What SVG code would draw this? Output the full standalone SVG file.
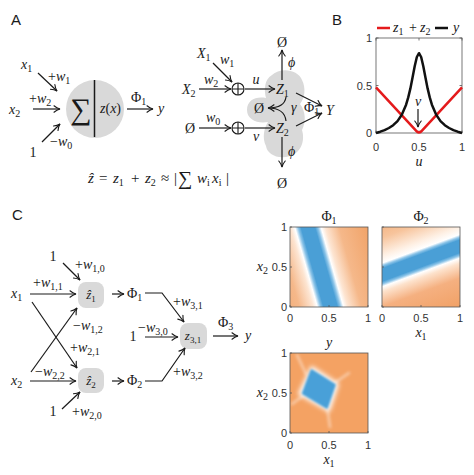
<svg xmlns="http://www.w3.org/2000/svg" width="474" height="475" viewBox="0 0 474 475">
<style>
.m{font-family:"Liberation Serif","DejaVu Serif",serif;font-size:14px;fill:#1a1a1a}
.n{font-size:13px}
.f{font-size:15px}
.i{font-style:italic}
.s{font-size:10px}
.s9{font-size:9px}
.big{font-size:30px}
.sum{font-size:20px}
.t{font-family:"Liberation Sans","DejaVu Sans",sans-serif;font-size:11px;fill:#333}
.L{font-family:"Liberation Sans","DejaVu Sans",sans-serif;font-size:15px;fill:#1a1a1a}
.c{fill:none;stroke:#1a1a1a;stroke-width:1.2}
.ax{fill:none;stroke:#555;stroke-width:0.8}
.tk{stroke:#555;stroke-width:0.8}
.gr{fill:#d9d9d9}
</style>
<defs>
<marker id="ah" viewBox="0 0 10 10" refX="9" refY="5" markerWidth="8" markerHeight="8" markerUnits="userSpaceOnUse" orient="auto">
<path d="M1.5,1 Q5,4 9,5 Q5,6 1.5,9" fill="none" stroke="#1a1a1a" stroke-width="1.4" stroke-linecap="round"/>
</marker>
<linearGradient id="g1" gradientUnits="userSpaceOnUse" x1="251.9" y1="286.1" x2="386.5" y2="247.9">
<stop offset="0" stop-color="#ef9a5a"/>
<stop offset="0.286" stop-color="#f5b88a"/>
<stop offset="0.38" stop-color="#fde5d2"/>
<stop offset="0.41" stop-color="#ffffff"/>
<stop offset="0.432" stop-color="#8cc4e8"/>
<stop offset="0.452" stop-color="#4a9fd6"/>
<stop offset="0.548" stop-color="#4a9fd6"/>
<stop offset="0.568" stop-color="#8cc4e8"/>
<stop offset="0.59" stop-color="#ffffff"/>
<stop offset="0.62" stop-color="#fde5d2"/>
<stop offset="0.714" stop-color="#f5b88a"/>
<stop offset="1" stop-color="#ef9a5a"/>
</linearGradient>
<linearGradient id="g2" gradientUnits="userSpaceOnUse" x1="396.8" y1="194.9" x2="445.2" y2="326.3">
<stop offset="0" stop-color="#ef9a5a"/>
<stop offset="0.25" stop-color="#f7c49c"/>
<stop offset="0.371" stop-color="#fef0e4"/>
<stop offset="0.421" stop-color="#ffffff"/>
<stop offset="0.439" stop-color="#8cc4e8"/>
<stop offset="0.457" stop-color="#4a9fd6"/>
<stop offset="0.543" stop-color="#4a9fd6"/>
<stop offset="0.561" stop-color="#8cc4e8"/>
<stop offset="0.579" stop-color="#ffffff"/>
<stop offset="0.614" stop-color="#fde2cc"/>
<stop offset="0.714" stop-color="#f5b080"/>
<stop offset="1" stop-color="#ef9a5a"/>
</linearGradient>
<clipPath id="cy"><rect x="290" y="353" width="78" height="80"/></clipPath>
<filter id="b1" x="-50%" y="-50%" width="200%" height="200%"><feGaussianBlur stdDeviation="1"/></filter>
<filter id="b2" x="-50%" y="-50%" width="200%" height="200%"><feGaussianBlur stdDeviation="1.6"/></filter>
<filter id="b3" x="-50%" y="-50%" width="200%" height="200%"><feGaussianBlur stdDeviation="2.5"/></filter>
</defs>
<rect width="474" height="475" fill="#fff"/>

<!-- Panel labels -->
<text class="L" x="11" y="25">A</text>
<text class="L" x="332" y="25">B</text>
<text class="L" x="12" y="220">C</text>

<!-- ===== Panel A: single neuron ===== -->
<g id="A-neuron">
<circle class="gr" cx="95" cy="109" r="29"/>
<line x1="94.5" y1="80" x2="94.5" y2="137" stroke="#1a1a1a" stroke-width="1.5"/>
<text class="m big" x="81" y="119" text-anchor="middle">∑</text>
<text class="m" x="100" y="113"><tspan class="i">z</tspan>(<tspan class="i">x</tspan>)</text>
</g>
<g id="A-x1"><text class="m" x="21" y="69"><tspan class="i">x</tspan><tspan class="s" dy="3">1</tspan></text></g>
<g id="A-x2"><text class="m" x="9" y="114"><tspan class="i">x</tspan><tspan class="s" dy="3">2</tspan></text></g>
<g id="A-one"><text class="m" x="33" y="157" text-anchor="middle">1</text></g>
<g id="A-y"><text class="m i" x="158" y="113">y</text></g>
<g id="A-labels">
<text class="m" x="48" y="81">+<tspan class="i">w</tspan><tspan class="s" dy="3">1</tspan></text>
<text class="m" x="29" y="103">+<tspan class="i">w</tspan><tspan class="s" dy="3">2</tspan></text>
<text class="m" x="50" y="146">−<tspan class="i">w</tspan><tspan class="s" dy="3">0</tspan></text>
<text class="m" x="131" y="102">Φ<tspan class="s" dy="3">1</tspan></text>
</g>
<g id="A-neuron-connectors">
<line class="c" x1="38" y1="73" x2="57" y2="91" marker-end="url(#ah)"/>
<line class="c" x1="33" y1="109" x2="60" y2="109" marker-end="url(#ah)"/>
<line class="c" x1="42" y1="142" x2="60" y2="124" marker-end="url(#ah)"/>
<line class="c" x1="127" y1="109" x2="153" y2="109" marker-end="url(#ah)"/>
</g>
<g id="A-formula">
<text class="m f" y="183"><tspan x="88" class="i">ẑ</tspan><tspan x="99">=</tspan><tspan x="113" class="i">z</tspan><tspan class="s" dy="3">1</tspan><tspan x="131" dy="-3">+</tspan><tspan x="145" class="i">z</tspan><tspan class="s" dy="3">2</tspan><tspan x="161" dy="-3">≈</tspan><tspan x="174">|</tspan><tspan x="178" class="sum" dy="2">∑</tspan><tspan x="197" dy="-2" class="i">w</tspan><tspan class="s" dy="3">i</tspan><tspan x="212" dy="-3" class="i">x</tspan><tspan class="s" dy="3">i</tspan><tspan x="226" dy="-3">|</tspan></text>
</g>

<!-- ===== Panel A: chemical network ===== -->
<g id="A-blob">
<path class="gr" d="M272,75 C280,67 298,69 302,80 C306,88 305,98 300,104 C306,112 306,122 302,130 C305,140 302,152 290,156 C278,160 267,154 266,146 C262,138 264,128 268,122 C258,124 247,120 247,110 C247,100 256,96 266,98 C264,90 264,80 272,75 Z"/>
</g>
<g id="A-X1"><text class="m" x="197" y="58"><tspan class="i">X</tspan><tspan class="s" dy="3">1</tspan></text></g>
<g id="A-X2"><text class="m" x="182" y="94"><tspan class="i">X</tspan><tspan class="s" dy="3">2</tspan></text></g>
<g id="A-null-in"><text class="m" x="190" y="133" text-anchor="middle">Ø</text></g>
<g id="A-plus1"><circle cx="238" cy="89" r="6" fill="#fff" stroke="#1a1a1a" stroke-width="1.1"/><path d="M232,89 H244 M238,83 V95" stroke="#1a1a1a" stroke-width="1.1"/></g>
<g id="A-plus2"><circle cx="238" cy="128" r="6" fill="#fff" stroke="#1a1a1a" stroke-width="1.1"/><path d="M232,128 H244 M238,122 V134" stroke="#1a1a1a" stroke-width="1.1"/></g>
<g id="A-Z1"><text class="m" x="276" y="94"><tspan class="i">Z</tspan><tspan class="s" dy="3">1</tspan></text></g>
<g id="A-Z2"><text class="m" x="276" y="133"><tspan class="i">Z</tspan><tspan class="s" dy="3">2</tspan></text></g>
<g id="A-null-top"><text class="m" x="282" y="47" text-anchor="middle">Ø</text></g>
<g id="A-null-mid"><text class="m" x="259" y="113" text-anchor="middle">Ø</text></g>
<g id="A-null-bot"><text class="m" x="282" y="188" text-anchor="middle">Ø</text></g>
<g id="A-Y"><text class="m i" x="326" y="115">Y</text></g>
<g id="A-net-labels">
<text class="m" x="220" y="64"><tspan class="i">w</tspan><tspan class="s" dy="3">1</tspan></text>
<text class="m" x="204" y="84"><tspan class="i">w</tspan><tspan class="s" dy="3">2</tspan></text>
<text class="m" x="206" y="122"><tspan class="i">w</tspan><tspan class="s" dy="3">0</tspan></text>
<text class="m i" x="256" y="84" text-anchor="middle">u</text>
<text class="m i" x="256" y="141" text-anchor="middle">v</text>
<text class="m i" x="288" y="67">ϕ</text>
<text class="m i" x="288" y="156">ϕ</text>
<text class="m i" x="291" y="112">γ</text>
<text class="m" x="304" y="112">Φ<tspan class="s" dy="3">1</tspan></text>
</g>
<g id="A-net-connectors">
<line class="c" x1="213" y1="63" x2="232" y2="82" marker-end="url(#ah)"/>
<line class="c" x1="199" y1="89" x2="231" y2="89" marker-end="url(#ah)"/>
<line class="c" x1="199" y1="128" x2="231" y2="128" marker-end="url(#ah)"/>
<line class="c" x1="245" y1="89" x2="275" y2="89" marker-end="url(#ah)"/>
<line class="c" x1="245" y1="128" x2="275" y2="128" marker-end="url(#ah)"/>
<line class="c" x1="282" y1="80" x2="282" y2="50" marker-end="url(#ah)"/>
<line class="c" x1="282" y1="137" x2="282" y2="167" marker-end="url(#ah)"/>
<line class="c" x1="296" y1="93" x2="322" y2="106" marker-end="url(#ah)"/>
<line class="c" x1="296" y1="126" x2="322" y2="113" marker-end="url(#ah)"/>
<path class="c" d="M286,97 C285,105 279,108 268,108" marker-end="url(#ah)"/>
<path class="c" d="M286,121 C285,112 279,108 268,108"/>
</g>

<!-- ===== Panel B ===== -->
<g id="B-legend">
<line x1="377" y1="28" x2="390" y2="28" stroke="#e41a1c" stroke-width="2.5"/>
<text class="m" y="32"><tspan x="393" class="i">z</tspan><tspan class="s" dy="3">1</tspan><tspan x="409" dy="-3">+</tspan><tspan x="420" class="i">z</tspan><tspan class="s" dy="3">2</tspan></text>
<line x1="435" y1="28" x2="448" y2="28" stroke="#111" stroke-width="2.5"/>
<text class="m i" x="453" y="32">y</text>
</g>
<g id="B-plot">
<rect class="ax" x="376" y="38" width="86" height="95" fill="#fff"/>
<path class="tk" d="M376,38 h2.5 M376,85.5 h2.5 M376,133 h2.5 M462,38 h-2.5 M462,85.5 h-2.5 M462,133 h-2.5 M376,133 v-2.5 M419,133 v-2.5 M462,133 v-2.5 M376,38 v2.5 M419,38 v2.5 M462,38 v2.5"/>
<path d="M376,87.4 L416,130.6 Q419,134.2 422,130.6 L462,87.4" fill="none" stroke="#e41a1c" stroke-width="2.5" stroke-linejoin="round"/>
<polyline fill="none" stroke="#111" stroke-width="2.5" stroke-linejoin="round" points="376,133 380.3,131.7 384.6,130.1 388.9,128 393.2,125.2 397.5,121.1 401.8,114.8 406.1,104.7 408.25,97.4 410.4,88.4 412.55,77.6 414.7,66.3 416.85,57 419,53.2 421.15,57 423.3,66.3 425.45,77.6 427.6,88.4 429.75,97.4 431.9,104.7 436.2,114.8 440.5,121.1 444.8,125.2 449.1,128 453.4,130.1 457.7,131.7 462,133"/>
<text class="m i" x="418" y="106" text-anchor="middle">v</text>
<line class="c" x1="418" y1="109" x2="418" y2="127" marker-end="url(#ah)"/>
<text class="t" x="372" y="42" text-anchor="end">1</text>
<text class="t" x="372" y="90" text-anchor="end">0.5</text>
<text class="t" x="372" y="137" text-anchor="end">0</text>
<text class="t" x="376" y="151" text-anchor="middle">0</text>
<text class="t" x="419" y="151" text-anchor="middle">0.5</text>
<text class="t" x="462" y="151" text-anchor="middle">1</text>
<text class="m i" x="419" y="166" text-anchor="middle">u</text>
</g>

<!-- ===== Panel C: network ===== -->
<g id="C-x1"><text class="m" x="11" y="298"><tspan class="i">x</tspan><tspan class="s" dy="3">1</tspan></text></g>
<g id="C-x2"><text class="m" x="11" y="385"><tspan class="i">x</tspan><tspan class="s" dy="3">2</tspan></text></g>
<g id="C-one1"><text class="m" x="53" y="261" text-anchor="middle">1</text></g>
<g id="C-one2"><text class="m" x="53" y="416" text-anchor="middle">1</text></g>
<g id="C-one3"><text class="m" x="133" y="341" text-anchor="middle">1</text></g>
<g id="C-z1"><rect class="gr" x="78" y="282" width="26" height="26" rx="8"/><text class="m n" x="91" y="299" text-anchor="middle"><tspan class="i">ẑ</tspan><tspan class="s9" dy="3">1</tspan></text></g>
<g id="C-z2"><rect class="gr" x="78" y="368" width="26" height="25" rx="8"/><text class="m n" x="91" y="385" text-anchor="middle"><tspan class="i">ẑ</tspan><tspan class="s9" dy="3">2</tspan></text></g>
<g id="C-z31"><rect class="gr" x="180" y="323" width="27" height="26" rx="8"/><text class="m n" x="193" y="340" text-anchor="middle"><tspan class="i">z</tspan><tspan class="s9" dy="3">3,1</tspan></text></g>
<g id="C-phi1"><text class="m" x="127" y="298">Φ<tspan class="s" dy="3">1</tspan></text></g>
<g id="C-phi2"><text class="m" x="127" y="385">Φ<tspan class="s" dy="3">2</tspan></text></g>
<g id="C-y"><text class="m i" x="245" y="340">y</text></g>
<g id="C-labels">
<text class="m" x="75" y="269">+<tspan class="i">w</tspan><tspan class="s" dy="3">1,0</tspan></text>
<text class="m" x="33" y="287">+<tspan class="i">w</tspan><tspan class="s" dy="3">1,1</tspan></text>
<text class="m" x="73" y="330">−<tspan class="i">w</tspan><tspan class="s" dy="3">1,2</tspan></text>
<text class="m" x="70" y="352">+<tspan class="i">w</tspan><tspan class="s" dy="3">2,1</tspan></text>
<text class="m" x="35" y="376">−<tspan class="i">w</tspan><tspan class="s" dy="3">2,2</tspan></text>
<text class="m" x="72" y="416">+<tspan class="i">w</tspan><tspan class="s" dy="3">2,0</tspan></text>
<text class="m" x="173" y="306">+<tspan class="i">w</tspan><tspan class="s" dy="3">3,1</tspan></text>
<text class="m" x="138" y="332">−<tspan class="i">w</tspan><tspan class="s" dy="3">3,0</tspan></text>
<text class="m" x="173" y="376">+<tspan class="i">w</tspan><tspan class="s" dy="3">3,2</tspan></text>
<text class="m" x="218" y="327">Φ<tspan class="s" dy="3">3</tspan></text>
</g>
<g id="C-connectors">
<line class="c" x1="63" y1="263" x2="80" y2="280" marker-end="url(#ah)"/>
<line class="c" x1="30" y1="294" x2="76" y2="294" marker-end="url(#ah)"/>
<line class="c" x1="32" y1="302" x2="77" y2="368" marker-end="url(#ah)"/>
<line class="c" x1="31" y1="372" x2="77" y2="308" marker-end="url(#ah)"/>
<line class="c" x1="30" y1="381" x2="76" y2="381" marker-end="url(#ah)"/>
<line class="c" x1="62" y1="409" x2="80" y2="392" marker-end="url(#ah)"/>
<line class="c" x1="112" y1="294" x2="124" y2="294" marker-end="url(#ah)"/>
<line class="c" x1="112" y1="381" x2="124" y2="381" marker-end="url(#ah)"/>
<path class="c" d="M145,293 H162 L184,322" marker-end="url(#ah)"/>
<path class="c" d="M145,381 H162 L185,348" marker-end="url(#ah)"/>
<line class="c" x1="145" y1="337" x2="178" y2="337" marker-end="url(#ah)"/>
<line class="c" x1="213" y1="336" x2="238" y2="336" marker-end="url(#ah)"/>
</g>

<!-- ===== Panel C: heatmaps ===== -->
<g id="C-plot-phi1">
<rect x="290" y="227" width="78" height="80" fill="url(#g1)"/>
<rect class="ax" x="290" y="227" width="78" height="80"/>
<path class="tk" d="M290,227 h2 M290,267 h2 M290,307 h2 M290,307 v-2 M329,307 v-2 M368,307 v-2"/>
<text class="m" x="329" y="221" text-anchor="middle">Φ<tspan class="s" dy="3">1</tspan></text>
<text class="t" x="287" y="231" text-anchor="end">1</text>
<text class="t" x="287" y="271" text-anchor="end">0.5</text>
<text class="t" x="287" y="311" text-anchor="end">0</text>
<text class="t" x="290" y="322" text-anchor="middle">0</text>
<text class="t" x="329" y="322" text-anchor="middle">0.5</text>
<text class="t" x="368" y="322" text-anchor="middle">1</text>
<text class="m" x="268" y="271" text-anchor="end"><tspan class="i">x</tspan><tspan class="s" dy="3">2</tspan></text>
</g>
<g id="C-plot-phi2">
<rect x="382" y="227" width="78" height="80" fill="url(#g2)"/>
<rect class="ax" x="382" y="227" width="78" height="80"/>
<path class="tk" d="M382,227 h2 M382,267 h2 M382,307 h2 M382,307 v-2 M421,307 v-2 M460,307 v-2"/>
<text class="m" x="421" y="221" text-anchor="middle">Φ<tspan class="s" dy="3">2</tspan></text>
<text class="t" x="382" y="322" text-anchor="middle">0</text>
<text class="t" x="421" y="322" text-anchor="middle">0.5</text>
<text class="t" x="460" y="322" text-anchor="middle">1</text>
<text class="m" x="421" y="337" text-anchor="middle"><tspan class="i">x</tspan><tspan class="s" dy="3">1</tspan></text>
</g>
<g id="C-plot-y">
<g clip-path="url(#cy)">
<rect x="290" y="353" width="78" height="80" fill="#f4a263"/>
<g filter="url(#b2)" stroke="#fff" stroke-width="2.5" opacity="0.45" stroke-linecap="round">
<line x1="306" y1="374" x2="297" y2="355"/>
<line x1="333" y1="384" x2="349" y2="373"/>
<line x1="304" y1="395" x2="292" y2="404"/>
<line x1="327" y1="406" x2="330" y2="427"/>
</g>
<path d="M311.7,367 L338,384 L329,411 L299,394 Z" fill="#fff" stroke="#fff" stroke-width="2" stroke-linejoin="round" filter="url(#b3)"/>
<path d="M311.7,370.7 L334.3,385 L326.7,407.3 L303.3,393.3 Z" fill="#4aa0d8" stroke="#4aa0d8" stroke-width="3" stroke-linejoin="round" filter="url(#b1)"/>
</g>
<rect class="ax" x="290" y="353" width="78" height="80"/>
<path class="tk" d="M290,353 h2 M290,393 h2 M290,433 h2 M290,433 v-2 M329,433 v-2 M368,433 v-2"/>
<text class="m i" x="329" y="347" text-anchor="middle">y</text>
<text class="t" x="287" y="357" text-anchor="end">1</text>
<text class="t" x="287" y="397" text-anchor="end">0.5</text>
<text class="t" x="287" y="437" text-anchor="end">0</text>
<text class="t" x="290" y="449" text-anchor="middle">0</text>
<text class="t" x="329" y="449" text-anchor="middle">0.5</text>
<text class="t" x="368" y="449" text-anchor="middle">1</text>
<text class="m" x="329" y="464" text-anchor="middle"><tspan class="i">x</tspan><tspan class="s" dy="3">1</tspan></text>
<text class="m" x="268" y="397" text-anchor="end"><tspan class="i">x</tspan><tspan class="s" dy="3">2</tspan></text>
</g>
</svg>
